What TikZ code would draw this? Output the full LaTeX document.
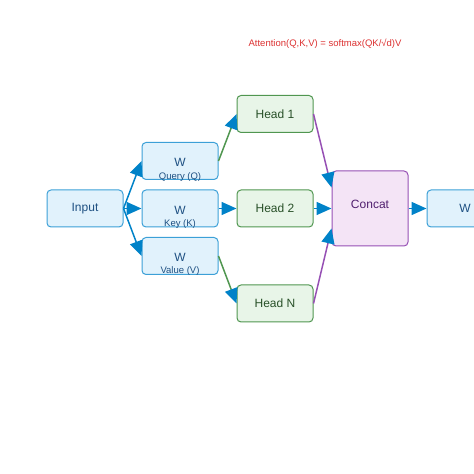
\documentclass[tikz,border=0pt]{standalone}
\usepackage{fontspec}
\setmainfont{Liberation Sans}
\usetikzlibrary{arrows.meta}
\definecolor{bluefill}{RGB}{225,242,252}
\definecolor{blueline}{RGB}{60,160,215}
\definecolor{bluetext}{RGB}{30,80,130}
\definecolor{greenfill}{RGB}{232,245,232}
\definecolor{greenline}{RGB}{80,150,80}
\definecolor{greentext}{RGB}{40,80,40}
\definecolor{purplefill}{RGB}{244,228,246}
\definecolor{purpleline}{RGB}{150,80,180}
\definecolor{purpletext}{RGB}{80,30,110}
\definecolor{tipblue}{RGB}{0,130,200}
\definecolor{titlered}{RGB}{220,50,50}
\tikzset{
  box/.style={rounded corners=4pt, line width=1pt, minimum width=76pt, minimum height=37pt, inner sep=0pt, font=\fontsize{12}{14}\selectfont},
  bluebox/.style={box, draw=blueline, fill=bluefill, text=bluetext},
  greenbox/.style={box, draw=greenline, fill=greenfill, text=greentext},
  sublabel/.style={text=bluetext, inner sep=0pt, font=\fontsize{9.5}{11}\selectfont},
  flow/.style={line width=1.5pt, -{Triangle[length=15pt,width=13pt,color=tipblue]}},
}
\begin{document}
\begin{tikzpicture}[x=1pt,y=1pt]
    \useasboundingbox (0,0) rectangle (474,474);
    \clip (0,0) rectangle (474,474);
    \node[text=titlered, font=\fontsize{9.5}{11}\selectfont] (title) at (325,430) {Attention(Q,K,V) = softmax(QK/√d)V};
    % input and projections
    \node[bluebox] (input) at (85,265.5) {Input};
    \node[bluebox] (wq) at (180,313) {};
    \node[bluebox] (wk) at (180,265.5) {};
    \node[bluebox] (wv) at (180,218) {};
    \node[text=bluetext, font=\fontsize{12}{14}\selectfont] (wqt) at (180,312) {W};
    \node[text=bluetext, font=\fontsize{12}{14}\selectfont] (wkt) at (180,264) {W};
    \node[text=bluetext, font=\fontsize{12}{14}\selectfont] (wvt) at (180,217) {W};
    \node[sublabel] (wql) at (180,297) {Query (Q)};
    \node[sublabel] (wkl) at (180,250) {Key (K)};
    \node[sublabel] (wvl) at (180,203) {Value (V)};
    % heads
    \node[greenbox] (h1) at (275,360) {Head 1};
    \node[greenbox] (h2) at (275,265.5) {Head 2};
    \node[greenbox] (hn) at (275,170.5) {Head N};
    \node[box, draw=purpleline, fill=purplefill, minimum height=75pt] (concat) at (370,265.5) {};
    \node[text=purpletext, font=\fontsize{12}{14}\selectfont] (concatt) at (370,270) {Concat};
    \node[bluebox] (wout) at (465,265.5) {W};
    % connectors
    \draw[flow, tipblue] (input.east) -- (wq.west);
    \draw[flow, tipblue] (input.east) -- (wk.west);
    \draw[flow, tipblue] (input.east) -- (wv.west);
    \draw[flow, greenline] (wq.east) -- (h1.west);
    \draw[flow, tipblue] (wk.east) -- (h2.west);
    \draw[flow, greenline] (wv.east) -- (hn.west);
    \draw[flow, purpleline] (h1.east) -- ([yshift=21pt]concat.west);
    \draw[flow, tipblue] (h2.east) -- (concat.west);
    \draw[flow, purpleline] (hn.east) -- ([yshift=-20pt]concat.west);
    \draw[flow, tipblue] (concat.east) -- (wout.west);
\end{tikzpicture}
\end{document}
